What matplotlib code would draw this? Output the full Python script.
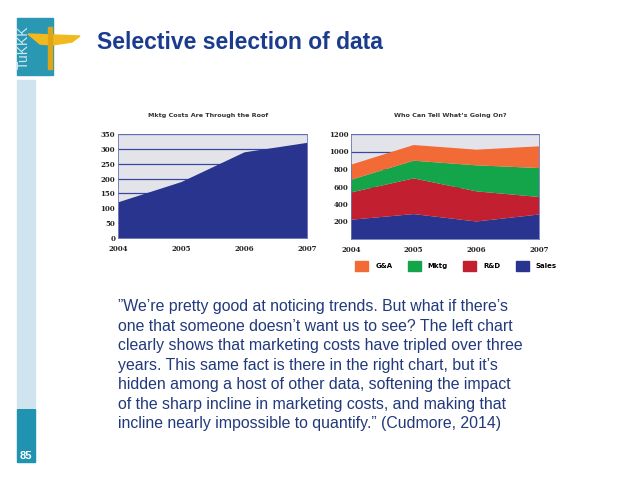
import numpy as np
import matplotlib.pyplot as plt
from matplotlib.patches import Rectangle, Polygon, Patch

# data
years = [2004, 2005, 2006, 2007]
mktg_only = [122, 190, 290, 322]

stack_names = ['Sales', 'R&D', 'Mktg', 'G&A']
sales = [220, 285, 200, 280]
rnd = [312, 408, 345, 200]
mktg = [145, 202, 297, 331]
gna = [172, 179, 179, 248]
stack_colors = ['#29348f', '#c21f30', '#14a54b', '#f26a36']

left_ticks = [0, 50, 100, 150, 200, 250, 300, 350]
right_ticks = [200, 400, 600, 800, 1000, 1200]

quote_lines = [
    "\u201dWe\u2019re pretty good at noticing trends. But what if there\u2019s",
    "one that someone doesn\u2019t want us to see? The left chart",
    "clearly shows that marketing costs have tripled over three",
    "years. This same fact is there in the right chart, but it\u2019s",
    "hidden among a host of other data, softening the impact",
    "of the sharp incline in marketing costs, and making that",
    "incline nearly impossible to quantify.\u201d (Cudmore, 2014)",
]

W, H = 638, 479
fig = plt.figure(figsize=(W / 100, H / 100), dpi=100)
fig.patch.set_facecolor('white')

# slide decoration layer in pixel coords
bg = fig.add_axes([0, 0, 1, 1], zorder=0)
bg.set_xlim(0, W)
bg.set_ylim(H, 0)
bg.axis('off')
bg.add_patch(Rectangle((17, 18), 36, 57, color='#2a98b3'))
bg.text(24, 47, 'TuKKK', rotation=90, ha='center', va='center',
        fontsize=10, color='#cfe7ef', family='Liberation Sans')
bg.add_patch(Polygon([(28, 34), (80, 36), (72, 42), (52, 45), (40, 44)], color='#f2b91e'))
bg.add_patch(Rectangle((48, 27), 4, 42, color='#e0a517'))
bg.add_patch(Rectangle((17, 80), 18, 327, color='#cfe4ef'))
bg.add_patch(Rectangle((17, 409), 18, 53, color='#1f93b0'))
bg.text(26, 456, '85', ha='center', va='center', fontsize=8, fontweight='bold',
        color='white', family='Liberation Sans')

bg.text(97, 42, 'Selective selection of data', ha='left', va='center',
        fontsize=16.5, fontweight='bold', color='#1b3c8e', family='Liberation Sans')

for i, line in enumerate(quote_lines):
    bg.text(118, 307 + i * 19.4, line, ha='left', va='center', fontsize=11.4,
            color='#223a7c', family='Liberation Sans')

bg.text(208, 115, 'Mktg Costs Are Through the Roof', ha='center', va='center',
        fontsize=4.6, fontweight='bold', color='#333333', family='DejaVu Sans')
bg.text(450, 115, "Who Can Tell What\u2019s Going On?", ha='center', va='center',
        fontsize=4.6, fontweight='bold', color='#333333', family='DejaVu Sans')

grid_col = '#3b479c'
tick_font = dict(fontsize=5, fontweight='bold', family='DejaVu Serif', color='#222222')


def style(ax, yticks, ymax):
    ax.set_facecolor('#e3e4ea')
    ax.set_xlim(years[0], years[-1])
    ax.set_ylim(0, ymax)
    ax.set_xticks(years)
    ax.set_xticklabels([str(y) for y in years], **tick_font)
    ax.set_yticks(yticks)
    ax.set_yticklabels([str(t) for t in yticks], **tick_font)
    ax.tick_params(length=0, pad=2)
    ax.tick_params(axis='x', pad=5)
    ax.yaxis.grid(True, color=grid_col, linewidth=0.9)
    ax.set_axisbelow(True)
    for s in ax.spines.values():
        s.set_color('#6a74b8')
        s.set_linewidth(0.6)


# left chart
ax1 = fig.add_axes([118 / W, 1 - 238 / H, 189 / W, 104 / H], zorder=1)
style(ax1, left_ticks, 350)
ax1.fill_between(years, 0, mktg_only, color='#29348f', linewidth=0, zorder=2)

# right chart
ax2 = fig.add_axes([351 / W, 1 - 239 / H, 188 / W, 105 / H], zorder=1)
style(ax2, right_ticks, 1200)
ax2.stackplot(years, sales, rnd, mktg, gna, colors=stack_colors, linewidth=0, zorder=2)

handles = [Patch(color=stack_colors[i]) for i in [3, 2, 1, 0]]
labels = [stack_names[i] for i in [3, 2, 1, 0]]
fig.legend(handles, labels, ncol=4, loc='center', bbox_to_anchor=(456 / W, 1 - 266 / H),
           frameon=False, handlelength=1.9, handleheight=1.9, columnspacing=2.2,
           handletextpad=1.0, prop=dict(size=5, weight='bold', family='DejaVu Sans'))

fig.savefig('out.png', dpi=100)
